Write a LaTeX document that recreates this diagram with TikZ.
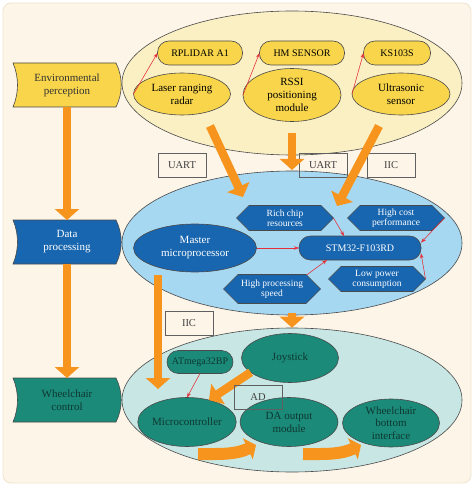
\documentclass[tikz,border=0pt]{standalone}
\usepackage{fontspec}
\setmainfont{Liberation Serif}
\usetikzlibrary{shapes.geometric, shapes.symbols, arrows.meta, calc}
\definecolor{cream}{HTML}{FDF5E8}
\definecolor{creamrim}{HTML}{EFE4CF}
\definecolor{paleyellow}{HTML}{FBF0C4}
\definecolor{gold}{HTML}{F8D54B}
\definecolor{flow}{HTML}{F7941E}
\definecolor{deepblue}{HTML}{1866B0}
\definecolor{skyblue}{HTML}{A7D8F1}
\definecolor{seagreen}{HTML}{1B8A78}
\definecolor{paleteal}{HTML}{C8E7E4}
\definecolor{tealtext}{HTML}{0E3833}
\definecolor{rimgray}{HTML}{4A4A4A}
\definecolor{pointred}{HTML}{E5303A}

\newcommand{\bannershape}[3]{%
  \filldraw[fill=#3, draw=rimgray, line width=0.6pt]
    (#1-54,#2-22) .. controls (#1-48,#2-8) and (#1-48,#2+8) .. (#1-54,#2+22)
    -- (#1+49,#2+22) .. controls (#1+56,#2+8) and (#1+56,#2-8) .. (#1+49,#2-22) -- cycle;
}

\begin{document}
\begin{tikzpicture}[x=1pt, y=-1pt,
  banner/.style={minimum width=100pt, minimum height=44pt, inner sep=0pt, outer sep=0pt, align=center, font=\fontsize{11}{13}\selectfont},
  zone/.style={ellipse, draw=rimgray, line width=0.6pt, minimum width=340pt, minimum height=144pt, inner sep=0pt},
  bubble/.style={ellipse, draw=rimgray, line width=0.6pt, inner sep=0pt, outer sep=0pt, align=center, font=\fontsize{11}{13}\selectfont},
  pill/.style={rectangle, rounded corners=11.5pt, draw=rimgray, line width=0.6pt, minimum height=24pt, inner sep=2pt, outer sep=0pt, font=\fontsize{10}{12}\selectfont},
  trait/.style={signal, signal to=west and east, fill=deepblue, draw=rimgray, line width=0.6pt, text=white, minimum width=97pt, minimum height=25pt, inner sep=1pt, outer sep=0pt, align=center, font=\fontsize{9.5}{10}\selectfont},
  busbox/.style={rectangle, draw=gray!75!black, line width=0.6pt, minimum width=48pt, minimum height=24pt, text=black!75, font=\fontsize{10.5}{12}\selectfont},
  pointer/.style={-{Stealth[length=5pt, width=3.5pt]}, draw=pointred, fill=pointred, line width=0.5pt},
  flowarrow/.style={draw=flow, line width=8.5pt, -{Triangle[length=11pt, width=24pt]}},
  bendarrow/.style={draw=flow, line width=12pt, -{Triangle[length=9pt, width=23pt]}}
]
  \useasboundingbox (0,0) rectangle (474,486);
  \filldraw[fill=cream, draw=creamrim, line width=0.8pt, rounded corners=8pt] (3,3) rectangle (471,483);

  % left column
  \bannershape{67}{85}{gold}
  \node[banner, text=black!80] (env) at (67,85) {Environmental\\perception};
  \bannershape{67}{242}{deepblue}
  \node[banner, text=white] (data) at (67,242) {Data\\processing};
  \bannershape{67}{400}{seagreen}
  \node[banner, text=tealtext] (ctrl) at (67,400) {Wheelchair\\control};
  \draw[flowarrow] (env) -- (data);
  \draw[flowarrow] (data) -- (ctrl);

  % perception zone
  \node[zone, fill=paleyellow] (sensezone) at (292,83) {};
  \node[pill, fill=gold, minimum width=85pt] (lidar) at (200,53) {RPLIDAR A1};
  \node[pill, fill=gold, minimum width=85pt] (hm) at (302,53) {HM SENSOR};
  \node[pill, fill=gold, minimum width=67pt] (ks) at (397,53) {KS103S};
  \node[bubble, fill=gold, minimum width=97pt, minimum height=42pt] (laser) at (182,94) {Laser ranging\\radar};
  \node[bubble, fill=gold, minimum width=98pt, minimum height=53pt] (rssi) at (292,95) {RSSI\\positioning\\module};
  \node[bubble, fill=gold, minimum width=98pt, minimum height=42pt] (ultra) at (401,94) {Ultrasonic\\sensor};
  \draw[pointer] (laser.west) -- (lidar.west);
  \draw[pointer] (rssi.west) -- (hm.west);
  \draw[pointer] (ultra.west) -- (ks.west);

  % processing zone
  \node[zone, fill=skyblue] (proczone) at (292,243) {};
  \node[bubble, fill=deepblue, text=white, minimum width=123pt, minimum height=48pt] (master) at (195,248) {Master\\microprocessor};
  \node[pill, fill=deepblue, text=white, minimum width=122pt] (stm) at (360,248) {STM32-F103RD};
  \node[trait] (rich) at (285,218) {Rich chip\\resources};
  \node[trait] (cost) at (396,218) {High cost\\performance};
  \node[trait, minimum height=29pt] (speed) at (272,289) {High processing\\speed};
  \node[trait] (lowpow) at (377,279) {Low power\\consumption};
  \draw[pointer] (master) -- (stm);
  \draw[pointer] (rich.east) -- (stm.143);
  \draw[pointer] (speed.22) -- (stm.200);
  \draw[pointer] (cost.east) -- (stm.5);
  \draw[pointer] (lowpow.east) -- (stm.-5);

  % control zone
  \node[zone, fill=paleteal] (drivezone) at (292,400) {};
  \node[pill, fill=seagreen, text=tealtext, minimum width=66pt, minimum height=23pt, inner sep=1pt] (atmega) at (200,362) {ATmega32BP};
  \node[bubble, fill=seagreen, text=tealtext, minimum width=97pt, minimum height=49pt] (joy) at (290,358) {Joystick};
  \node[bubble, fill=seagreen, text=tealtext, minimum width=98pt, minimum height=49pt] (micro) at (187,422) {Microcontroller};
  \node[bubble, fill=seagreen, text=tealtext, minimum width=98pt, minimum height=49pt] (daout) at (289,422) {DA output\\module};
  \node[bubble, fill=seagreen, text=tealtext, minimum width=97pt, minimum height=48pt, font=\fontsize{11}{12.5}\selectfont] (base) at (391,423) {Wheelchair\\bottom\\interface};
  \draw[pointer] (atmega.south) -- (micro.north);

  % bus labels
  \node[busbox] (uartA) at (182,165) {UART};
  \node[busbox] (uartB) at (323,165) {UART};
  \node[busbox] (iicA) at (391,165) {IIC};
  \node[busbox] (iicB) at (189,323) {IIC};

  % block arrows between zones
  \coordinate (radarFeed) at (210,126);
  \coordinate (radarLand) at (243,197);
  \coordinate (rssiFeed) at (292,133);
  \coordinate (rssiLand) at (292,170);
  \coordinate (ultraFeed) at (379,126);
  \coordinate (ultraLand) at (337,206);
  \coordinate (masterFeed) at (158,275);
  \coordinate (masterLand) at (158,389);
  \coordinate (procDrop) at (292,313);
  \draw[flowarrow] (radarFeed) -- (radarLand);
  \draw[flowarrow] (rssiFeed) -- (rssiLand);
  \draw[flowarrow] (ultraFeed) -- (ultraLand);
  \draw[flowarrow] (masterFeed) -- (masterLand);
  \draw[flowarrow] (procDrop) -- (drivezone.north);
  \draw[flowarrow] (joy.200) -- (micro.45);

  \coordinate (bendA) at (198,454);
  \coordinate (bendAend) at (256,445);
  \coordinate (bendB) at (303,454);
  \coordinate (bendBend) at (361,445);
  \draw[bendarrow] (bendA) to[out=0, in=205] (bendAend);
  \draw[bendarrow] (bendB) to[out=0, in=205] (bendBend);

  \node[busbox] (adbox) at (258,397) {AD};
\end{tikzpicture}
\end{document}
